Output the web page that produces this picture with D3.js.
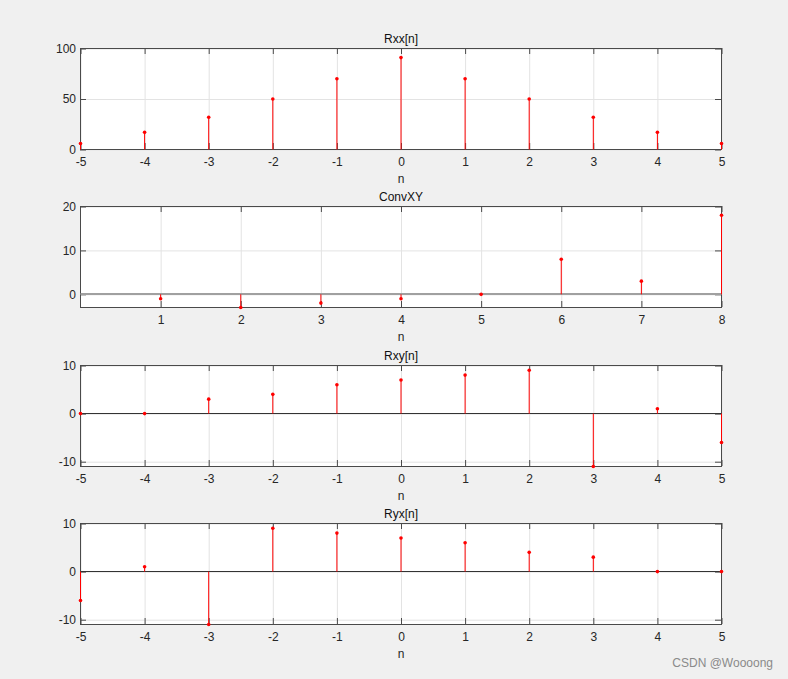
<!DOCTYPE html>
<html>
<head>
<meta charset="utf-8">
<script src="https://cdn.jsdelivr.net/npm/d3@7"></script>
<style>
  html, body { margin: 0; padding: 0; background: #f0f0f0; }
  svg { display: block; font-family: "Liberation Sans", Arial, sans-serif; }
</style>
</head>
<body>
<svg id="chart" width="788" height="679"></svg>
<script>
// ---- data ----
const lagN = [-5, -4, -3, -2, -1, 0, 1, 2, 3, 4, 5];
const rxx = [6, 17, 32, 50, 70, 91, 70, 50, 32, 17, 6];
const convN = [1, 2, 3, 4, 5, 6, 7, 8];
const convXY = [-1, -3, -2, -1, 0, 8, 3, 18];
const rxy = [0, 0, 3, 4, 6, 7, 8, 9, -11, 1, -6];
const ryx = [-6, 1, -11, 9, 8, 7, 6, 4, 3, 0, 0];

const titles = ["Rxx[n]", "ConvXY", "Rxy[n]", "Ryx[n]"];
const xLabel = "n";
const lagTicks = [-5, -4, -3, -2, -1, 0, 1, 2, 3, 4, 5];
const convTicks = [1, 2, 3, 4, 5, 6, 7, 8];
const yTicksRxx = [0, 50, 100];
const yTicksConv = [0, 10, 20];
const yTicksR = [-10, 0, 10];

const panels = [
  { title: titles[0], n: lagN, v: rxx, xDom: [-5, 5], yDom: [0, 100], xt: lagTicks, yt: yTicksRxx, top: 48, baseline: false },
  { title: titles[1], n: convN, v: convXY, xDom: [0, 8], yDom: [-3, 20], xt: convTicks, yt: yTicksConv, top: 206, baseline: true, baseColor: "#a0a0a0", baseWidth: 2 },
  { title: titles[2], n: lagN, v: rxy, xDom: [-5, 5], yDom: [-11, 10], xt: lagTicks, yt: yTicksR, top: 365, baseline: true, baseColor: "#333", baseWidth: 1 },
  { title: titles[3], n: lagN, v: ryx, xDom: [-5, 5], yDom: [-11, 10], xt: lagTicks, yt: yTicksR, top: 523, baseline: true, baseColor: "#333", baseWidth: 1 }
];

const svg = d3.select("#chart");
const left = 80, W = 641, H = 101;
const axisColor = "#4a4a4a", textColor = "#262626";
const fmt = d => String(d);

panels.forEach(p => {
  const g = svg.append("g").attr("transform", `translate(${left},${p.top})`);
  const x = d3.scaleLinear().domain(p.xDom).range([0.5, W + 0.5]);
  const y = d3.scaleLinear().domain(p.yDom).range([H + 0.5, 0.5]);

  g.append("rect").attr("x", 0.5).attr("y", 0.5).attr("width", W).attr("height", H).attr("fill", "#fff");

  // grid
  const gx = g.append("g").attr("transform", `translate(0,${H})`)
    .call(d3.axisBottom(x).tickValues(p.xt).tickSize(-H).tickFormat(""));
  const gy = g.append("g")
    .call(d3.axisLeft(y).tickValues(p.yt).tickSize(-W).tickFormat(""));
  [gx, gy].forEach(a => {
    a.select(".domain").remove();
    a.selectAll("line").attr("stroke", "#e3e3e3");
  });

  // axes with inward ticks
  const ab = g.append("g").attr("transform", `translate(0,${H})`)
    .call(d3.axisBottom(x).tickValues(p.xt).tickSizeInner(-6).tickSizeOuter(0).tickPadding(8).tickFormat(fmt));
  const at = g.append("g")
    .call(d3.axisTop(x).tickValues(p.xt).tickSizeInner(-6).tickSizeOuter(0).tickFormat(""));
  const al = g.append("g")
    .call(d3.axisLeft(y).tickValues(p.yt).tickSizeInner(-6).tickSizeOuter(0).tickPadding(4).tickFormat(fmt));
  const ar = g.append("g").attr("transform", `translate(${W},0)`)
    .call(d3.axisRight(y).tickValues(p.yt).tickSizeInner(-6).tickSizeOuter(0).tickFormat(""));
  [ab, at, al, ar].forEach(a => {
    a.select(".domain").remove();
    a.selectAll("line").attr("stroke", axisColor);
    a.selectAll("text").attr("fill", textColor).attr("font-size", 12)
      .attr("font-family", "'Liberation Sans', Arial, sans-serif");
  });

  // box
  g.append("rect").attr("x", 0.5).attr("y", 0.5).attr("width", W).attr("height", H)
    .attr("fill", "none").attr("stroke", axisColor).attr("stroke-width", 1);

  // baseline
  if (p.baseline) {
    const by = p.baseWidth === 2 ? Math.round(y(0)) : Math.round(y(0) - 0.5) + 0.5;
    g.append("line").attr("x1", x(p.xDom[0])).attr("x2", x(p.xDom[1]))
      .attr("y1", by).attr("y2", by)
      .attr("stroke", p.baseColor).attr("stroke-width", p.baseWidth);
  }

  const pts = p.n.map((d, i) => ({ n: d, v: p.v[i] }));
  // stems
  g.selectAll(".stem").data(pts).join("line")
    .attr("x1", d => x(d.n)).attr("x2", d => x(d.n))
    .attr("y1", y(0)).attr("y2", d => y(d.v))
    .attr("stroke", "#ff0000").attr("stroke-width", 1);
  // markers
  g.selectAll(".mk").data(pts).join("circle")
    .attr("cx", d => x(d.n)).attr("cy", d => y(d.v)).attr("r", 1.8)
    .attr("fill", "#ff0000");

  // title
  g.append("text").attr("x", W / 2 + 0.5).attr("y", -5).attr("text-anchor", "middle")
    .attr("font-size", 12).attr("fill", "#111").text(p.title);
  // x label
  g.append("text").attr("x", W / 2 + 0.5).attr("y", H + 34).attr("text-anchor", "middle")
    .attr("font-size", 12).attr("fill", textColor).text(xLabel);
});

// watermark
svg.append("text").attr("x", 773).attr("y", 667).attr("text-anchor", "end")
  .attr("font-size", 12).attr("fill", "#8a8a8a").text("CSDN @Woooong");
</script>
</body>
</html>
